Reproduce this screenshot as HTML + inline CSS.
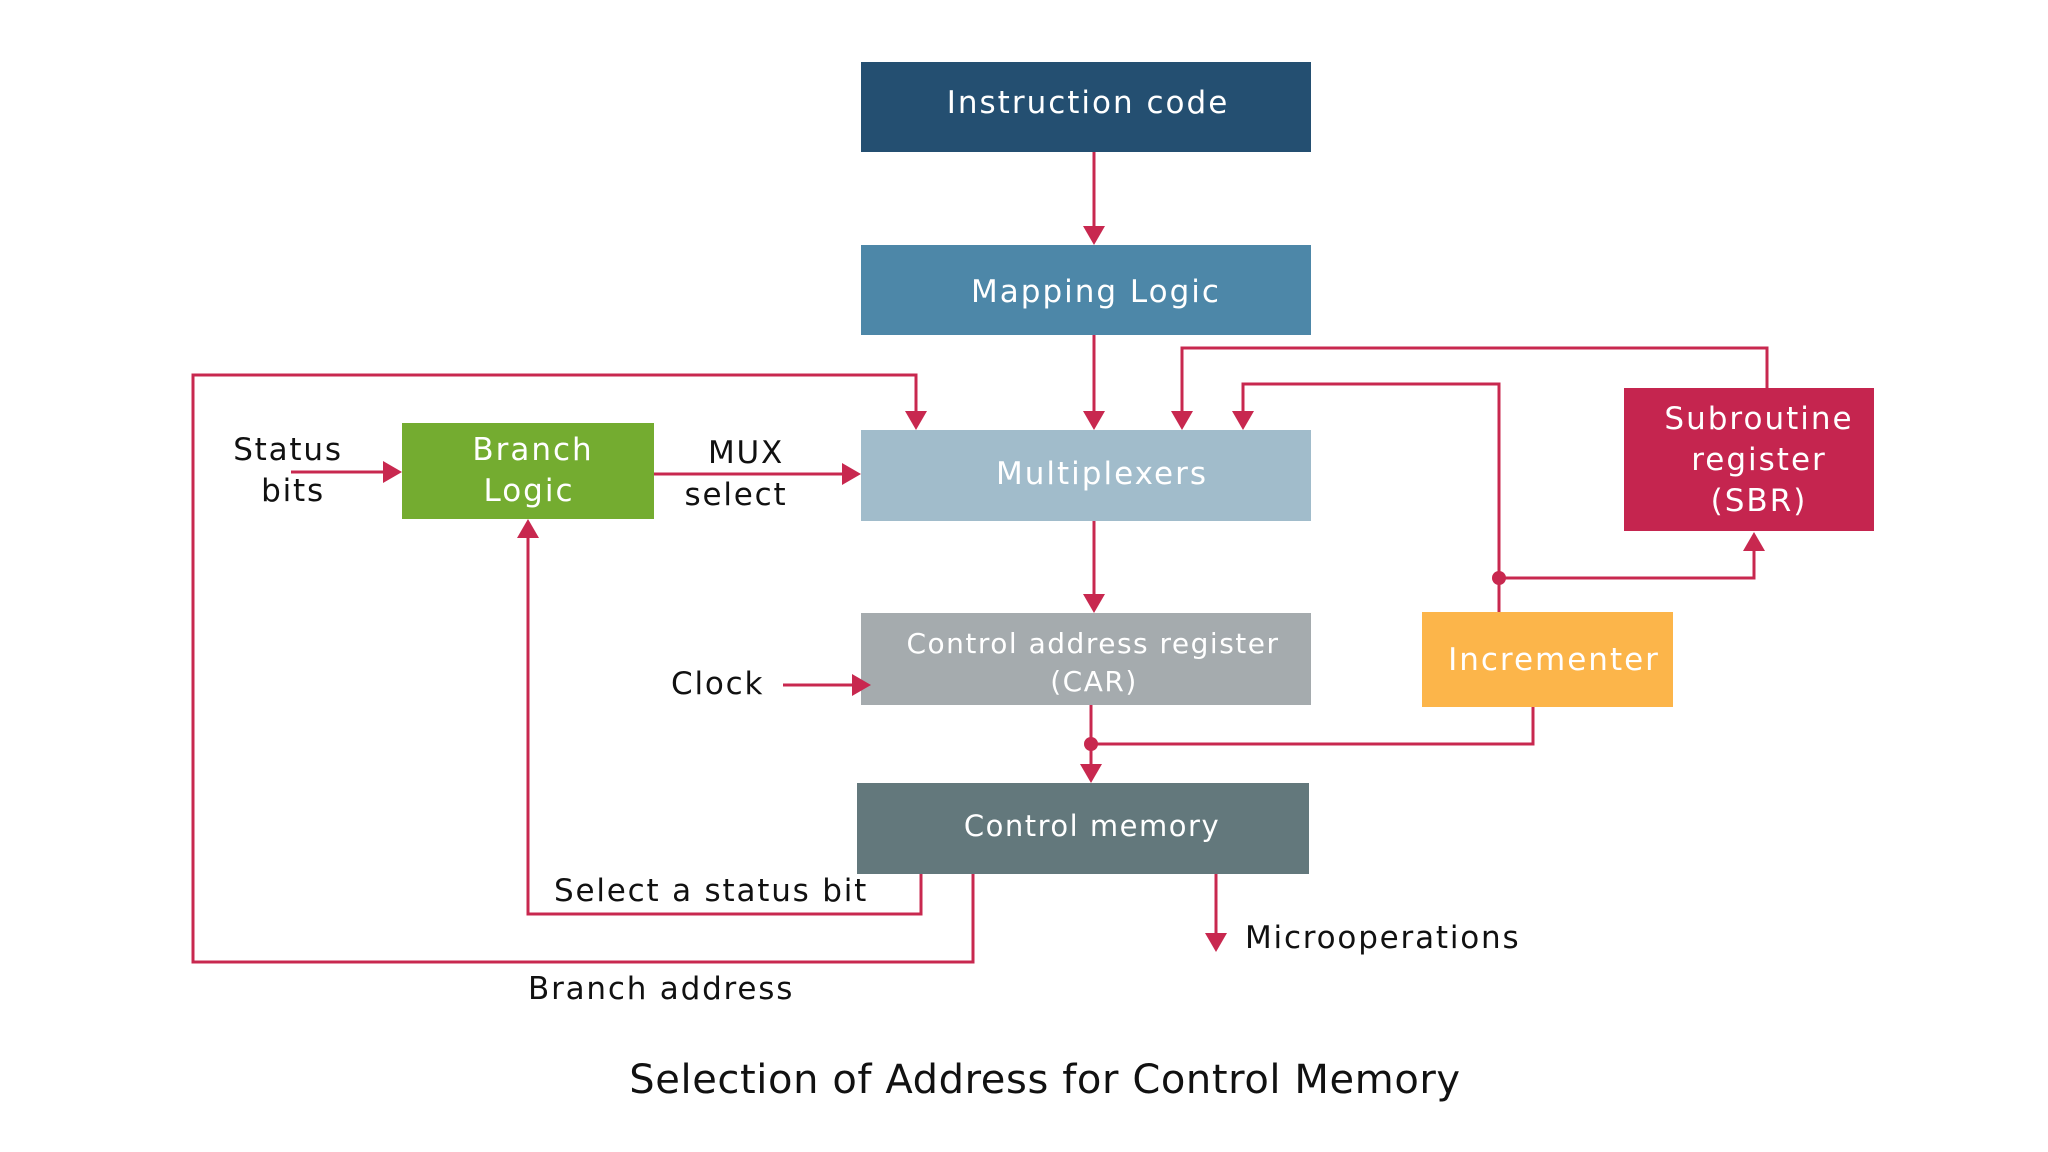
<!DOCTYPE html>
<html><head><meta charset="utf-8"><style>
html,body{margin:0;padding:0;background:#fff;}
svg{display:block;}
text{font-family:"DejaVu Sans","Liberation Sans",sans-serif;}
</style></head><body>
<svg width="2048" height="1152" viewBox="0 0 2048 1152" xmlns="http://www.w3.org/2000/svg">
<!-- boxes -->
<rect x="861" y="62" width="450" height="90" fill="#244f71"/>
<rect x="861" y="245" width="450" height="90" fill="#4d87a8"/>
<rect x="861" y="430" width="450" height="91" fill="#a1bccb"/>
<rect x="861" y="613" width="450" height="92" fill="#a5abae"/>
<rect x="857" y="783" width="452" height="91" fill="#63787c"/>
<rect x="402" y="423" width="252" height="96" fill="#74ac30"/>
<rect x="1624" y="388" width="250" height="143" fill="#c5254f"/>
<rect x="1422" y="612" width="251" height="95" fill="#fcb54a"/>

<g fill="none" stroke="#c8284f" stroke-width="3">
<line x1="1094" y1="152" x2="1094" y2="232"/>
<line x1="1094" y1="335" x2="1094" y2="418"/>
<line x1="1094" y1="521" x2="1094" y2="600"/>
<polyline points="973,874 973,962 193,962 193,375 916,375 916,418"/>
<polyline points="921,874 921,914 528,914 528,532"/>
<polyline points="1767,388 1767,348 1182,348 1182,418"/>
<polyline points="1499,612 1499,384 1243,384 1243,418"/>
<polyline points="1499,578 1754,578 1754,545"/>
<line x1="1091" y1="705" x2="1091" y2="770"/>
<polyline points="1091,744 1533,744 1533,707"/>
<line x1="1216" y1="874" x2="1216" y2="940"/>
<line x1="291" y1="472" x2="390" y2="472"/>
<line x1="654" y1="474" x2="849" y2="474"/>
<line x1="783" y1="685" x2="859" y2="685"/>
</g>
<g fill="#c8284f">
<polygon points="1083,226 1105,226 1094,245"/>
<polygon points="1083,411 1105,411 1094,430"/>
<polygon points="1083,594 1105,594 1094,613"/>
<polygon points="905,411 927,411 916,430"/>
<polygon points="1171,411 1193,411 1182,430"/>
<polygon points="1232,411 1254,411 1243,430"/>
<polygon points="1080,764 1102,764 1091,783"/>
<polygon points="1205,933 1227,933 1216,952"/>
<polygon points="517,538 539,538 528,519"/>
<polygon points="1743,551 1765,551 1754,532"/>
<polygon points="383,461 383,483 402,472"/>
<polygon points="842,463 842,485 861,474"/>
<polygon points="852,674 852,696 871,685"/>
<circle cx="1499" cy="578" r="7"/>
<circle cx="1091" cy="744" r="7"/>
</g>

<g font-size="31" fill="#fff" text-anchor="middle" letter-spacing="2">
<text x="1088" y="113">Instruction code</text>
<text x="1096" y="302">Mapping Logic</text>
<text x="1102" y="484">Multiplexers</text>
<text x="1093" y="653" font-size="28" letter-spacing="1.5">Control address register</text>
<text x="1094" y="691" font-size="28" letter-spacing="1.5">(CAR)</text>
<text x="1092" y="836" font-size="29" letter-spacing="1.5">Control memory</text>
<text x="533" y="460">Branch</text>
<text x="529" y="501">Logic</text>
<text x="1759" y="429">Subroutine</text>
<text x="1759" y="470">register</text>
<text x="1759" y="511">(SBR)</text>
<text x="1554" y="670">Incrementer</text>
</g>
<g font-size="31" fill="#111" letter-spacing="1.8">
<text x="288" y="460" text-anchor="middle">Status</text>
<text x="293" y="501" text-anchor="middle">bits</text>
<text x="746" y="463" text-anchor="middle">MUX</text>
<text x="736" y="505" text-anchor="middle">select</text>
<text x="671" y="694">Clock</text>
<text x="554" y="901">Select a status bit</text>
<text x="1245" y="948">Microoperations</text>
<text x="528" y="999">Branch address</text>
<text x="1045" y="1093" font-size="40" text-anchor="middle" letter-spacing="0.6">Selection of Address for Control Memory</text>
</g>
</svg>
</body></html>
